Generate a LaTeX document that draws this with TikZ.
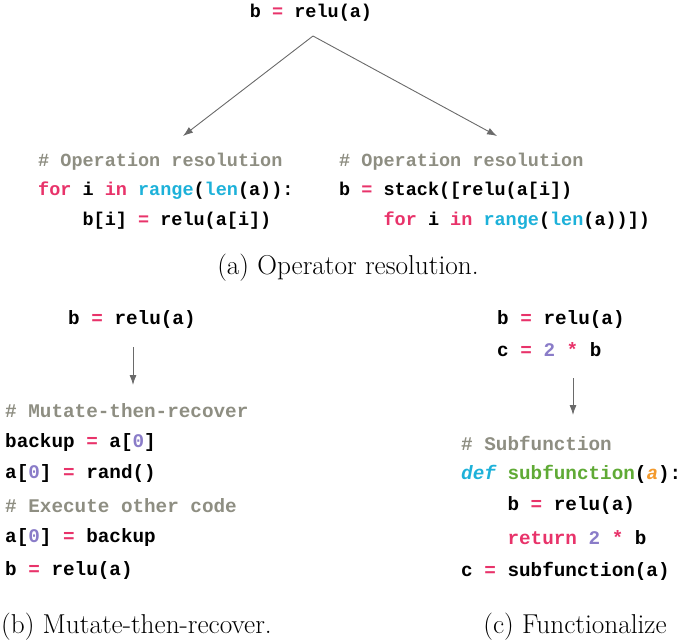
\documentclass[tikz,border=0pt]{standalone}
\usepackage{fontspec}
\usepackage{tikz}
\usetikzlibrary{arrows.meta}
\newfontfamily\codefont{Liberation Mono}[UprightFont=* Bold, ItalicFont=* Bold Italic, WordSpace={1,0,0}]
\definecolor{kwpink}{HTML}{E8336A}
\definecolor{fncyan}{HTML}{1DB1D9}
\definecolor{cmtgray}{HTML}{8E8E82}
\definecolor{numpurple}{HTML}{8A7CC8}
\definecolor{defgreen}{HTML}{5FAA35}
\definecolor{argorange}{HTML}{F39A2D}
\definecolor{arrowgray}{HTML}{6A6A6A}
\newcommand{\kw}[1]{\textcolor{kwpink}{#1}}
\newcommand{\bi}[1]{\textcolor{fncyan}{#1}}
\newcommand{\num}[1]{\textcolor{numpurple}{#1}}
\newcommand{\cmt}[1]{\textcolor{cmtgray}{#1}}
\newcommand{\ind}{\hphantom{xxxx}}

\begin{document}
\begin{tikzpicture}[x=1pt, y=-1pt,
	codeA/.style={anchor=west, inner sep=0pt, font=\codefont\fontsize{18.5}{22}\selectfont},
	codeB/.style={anchor=west, inner sep=0pt, font=\codefont\fontsize{19.3}{23}\selectfont},
	capt/.style={inner sep=0pt, font=\fontsize{27.3}{32}\selectfont},
	conn/.style={draw=arrowgray, line width=0.9pt, -{Latex[length=10pt, width=7pt]}}]
	\useasboundingbox (0,0) rectangle (685,643);
	\node[codeA, anchor=center] (reluA) at (311,13) {b \kw{=} relu(a)};
	\coordinate (forkA) at (313,36);
	\coordinate (loopTop) at (183,136);
	\coordinate (stackTop) at (497,136);
	\draw[conn] (forkA) -- (loopTop);
	\draw[conn] (forkA) -- (stackTop);
	\node[codeA] (loopCmt) at (38,162) {\cmt{\# Operation resolution}};
	\node[codeA] (loopHead) at (38,191) {\kw{for} i \kw{in} \bi{range}(\bi{len}(a)):};
	\node[codeA] (loopBody) at (38,221) {\ind b[i] \kw{=} relu(a[i])};
	\node[codeA] (stackCmt) at (339,162) {\cmt{\# Operation resolution}};
	\node[codeA] (stackHead) at (339,191) {b \kw{=} stack([relu(a[i])};
	\node[codeA] (stackGen) at (339,221) {\ind\kw{for} i \kw{in} \bi{range}(\bi{len}(a))])};
	\node[capt] (captA) at (348,268) {(a) Operator resolution.};
	\node[codeB] (reluB) at (68,320) {b \kw{=} relu(a)};
	\coordinate (mutStart) at (133,347);
	\coordinate (mutEnd) at (133,385);
	\draw[conn] (mutStart) -- (mutEnd);
	\node[codeB] (mutCmt) at (5,411) {\cmt{\# Mutate-then-recover}};
	\node[codeB] (mutBackup) at (5,443) {backup \kw{=} a[\num{0}]};
	\node[codeB] (mutRand) at (5,474) {a[\num{0}] \kw{=} rand()};
	\node[codeB] (mutExec) at (5,506) {\cmt{\# Execute other code}};
	\node[codeB] (mutRestore) at (5,538) {a[\num{0}] \kw{=} backup};
	\node[codeB] (mutRelu) at (5,571) {b \kw{=} relu(a)};
	\node[capt, anchor=west] (captB) at (1,627) {(b) Mutate-then-recover.};
	\node[codeB] (funRelu) at (497,320) {b \kw{=} relu(a)};
	\node[codeB] (funMul) at (497,350) {c \kw{=} \num{2} \kw{*} b};
	\coordinate (funStart) at (573,378);
	\coordinate (funEnd) at (573,415);
	\draw[conn] (funStart) -- (funEnd);
	\node[codeB] (funCmt) at (461,443) {\cmt{\# Subfunction}};
	\node[codeB] (funDef) at (461,474) {\bi{\itshape def} \textcolor{defgreen}{subfunction}(\textcolor{argorange}{\itshape a}):};
	\node[codeB] (funBody) at (461,506) {\ind b \kw{=} relu(a)};
	\node[codeB] (funRet) at (461,538) {\ind\kw{return} \num{2} \kw{*} b};
	\node[codeB] (funCall) at (461,571) {c \kw{=} subfunction(a)};
	\node[capt] (captC) at (575,627) {(c) Functionalize};
\end{tikzpicture}
\end{document}
